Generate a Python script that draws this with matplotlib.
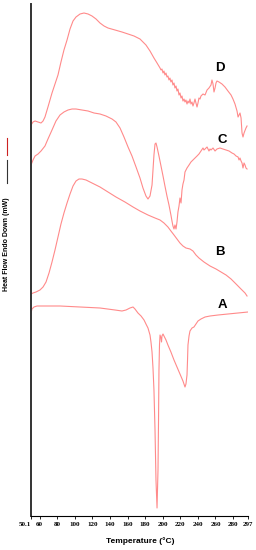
import matplotlib
matplotlib.use("Agg")
import matplotlib.pyplot as plt
from matplotlib.lines import Line2D

# DSC thermograms (heat flow, arbitrary offset mW) vs temperature (C)
temp_d = [50.1, 52.4, 54.7, 58.1, 61.5, 63.8, 66.0, 69.4, 74.0, 77.4,
          80.8, 84.2, 87.6, 91.1, 94.5, 97.9, 101.3, 105.9, 110.4, 115.0,
          119.5, 124.1, 128.6, 133.2, 137.7, 145.7, 153.6, 160.5, 167.3, 174.1,
          177.5, 180.9, 185.5, 190.0, 193.5, 196.9,
          198.0, 199.1, 200.3, 201.4, 202.5, 203.7, 204.8, 205.9, 207.1, 208.2,
          209.3, 210.5, 211.6, 212.8, 213.9, 215.1, 216.2, 217.3, 218.5, 219.6,
          220.8, 221.9, 223.0, 224.2, 225.3, 226.4, 227.6, 228.7, 229.9, 231.0,
          232.1, 233.3, 234.4, 235.5, 236.7, 237.8, 239.0, 240.1, 241.2, 242.4,
          243.5,
          245.8, 248.1, 250.4, 252.6, 254.9, 256.0, 257.2, 258.3, 259.5, 260.6,
          261.7, 264.0, 267.4, 270.8, 274.2, 277.7, 279.9, 282.2, 284.5, 285.7,
          286.8, 287.9, 289.1, 290.2, 291.3, 292.5, 294.7, 295.9]
hf_d = [39.1, 39.4, 39.5, 39.4, 39.3, 39.5, 39.9, 40.9, 42.3, 43.2,
        44.1, 45.4, 46.6, 47.6, 48.7, 49.5, 49.9, 50.2, 50.3, 50.2,
        50.0, 49.7, 49.3, 49.0, 48.8, 48.6, 48.4, 48.2, 48.0, 47.7,
        47.4, 47.1, 46.5, 45.8, 45.3, 44.8,
        44.6, 44.7, 44.3, 44.5, 44.1, 44.3, 43.9, 44.0, 43.6, 43.8,
        43.4, 43.6, 43.1, 43.3, 42.8, 43.0, 42.5, 42.7, 42.1, 42.3,
        41.8, 42.0, 41.5, 41.7, 41.4, 41.6, 41.2, 41.5, 41.3, 41.7,
        41.2, 41.4, 41.0, 41.3, 41.7, 41.3, 40.9, 41.3, 41.8, 41.7,
        42.0,
        42.2, 42.1, 42.6, 42.8, 43.1, 43.6, 43.2, 42.4, 42.8, 43.3,
        43.5, 43.4, 43.2, 42.9, 42.5, 42.1, 41.7, 41.2, 40.5, 39.9,
        40.1, 40.3, 39.8, 38.3, 37.9, 38.3, 38.8, 39.0]

temp_c = [50.1, 52.4, 54.7, 58.1, 61.5, 66.0, 69.4, 74.0, 78.5, 83.1,
          87.6, 92.2, 96.8, 101.3, 108.1, 115.0, 121.8, 128.6, 135.4, 142.3,
          146.8, 151.4, 155.9, 160.5, 165.0, 169.6, 174.1, 177.5, 180.9, 183.2,
          185.5, 187.8, 188.9, 190.0, 191.2, 192.3, 193.5, 195.7, 198.0, 200.3,
          202.5, 204.8, 207.1, 209.3, 210.5, 211.6, 212.8, 213.9, 215.1, 216.2,
          217.3, 218.5, 219.6, 220.8, 221.9, 223.0, 224.2, 225.3, 227.6, 229.9,
          232.1, 234.4, 236.7, 239.0, 241.2, 243.5, 245.8, 246.9, 248.1, 250.4,
          251.5, 252.6, 253.8, 254.9, 257.2, 259.5, 261.7, 265.1, 268.5, 272.0,
          275.4, 278.8, 281.1, 283.4, 285.7, 286.8, 287.9, 289.1, 290.2, 291.3,
          292.5, 293.6, 294.7, 295.9]
hf_c = [35.1, 35.6, 36.0, 36.2, 36.5, 37.0, 37.7, 38.6, 39.5, 40.1,
        40.4, 40.6, 40.7, 40.7, 40.6, 40.5, 40.3, 40.2, 40.0, 39.7,
        39.4, 38.8, 37.9, 36.9, 36.0, 34.9, 33.8, 32.8, 32.0, 31.7,
        32.0, 33.1, 34.6, 36.1, 37.2, 37.3, 36.9, 36.0, 35.0, 34.0,
        33.0, 32.0, 31.1, 30.1, 29.5, 29.0, 28.7, 29.1, 28.7, 29.4,
        30.4, 31.0, 31.8, 31.3, 32.6, 33.2, 33.6, 34.4, 34.8, 35.1,
        35.4, 35.6, 35.8, 36.0, 36.2, 36.5, 36.8, 36.6, 36.7, 36.9,
        36.7, 36.5, 36.7, 36.6, 36.8, 36.5, 36.7, 36.8, 36.7, 36.6,
        36.5, 36.3, 36.2, 36.0, 35.9, 35.6, 35.8, 35.5, 35.3, 34.8,
        35.3, 35.1, 34.8, 34.7]

temp_b = [50.1, 52.4, 55.8, 60.3, 63.8, 67.2, 70.6, 74.0, 77.4, 80.8,
          84.2, 87.6, 91.1, 94.5, 97.9, 101.3, 104.7, 108.1, 112.7, 119.5,
          128.6, 137.7, 146.8, 157.0, 166.2, 174.1, 183.2, 191.2, 196.9, 201.4,
          205.9, 209.3, 212.8, 216.2, 219.6, 223.0, 226.4, 231.0, 234.4, 237.8,
          241.2, 246.9, 253.8, 260.6, 266.3, 272.0, 277.7, 283.4, 289.0, 293.6,
          295.9]
hf_b = [22.2, 22.3, 22.4, 22.6, 22.9, 23.4, 24.3, 25.4, 26.6, 27.9,
        29.2, 30.3, 31.3, 32.2, 33.0, 33.5, 33.7, 33.7, 33.6, 33.3,
        32.9, 32.4, 31.9, 31.4, 30.9, 30.5, 30.1, 29.8, 29.6, 29.3,
        28.9, 28.5, 28.1, 27.7, 27.3, 27.0, 26.8, 26.7, 26.5, 26.1,
        25.8, 25.4, 25.0, 24.7, 24.4, 24.1, 23.7, 23.2, 22.7, 22.3,
        22.0]

temp_a = [50.1, 51.2, 53.5, 56.9, 66.0, 83.1, 105.9, 128.6, 145.7, 153.6,
          158.2, 162.7, 166.2, 168.4, 171.8, 175.3, 178.7, 180.9, 183.2, 185.5,
          186.6, 187.8, 188.9, 190.0, 191.2, 192.3, 193.5, 194.6, 195.2, 195.7,
          196.3, 196.9, 198.0, 198.6, 199.1, 200.3, 201.4, 203.7, 205.9, 209.3,
          212.8, 216.2, 219.6, 223.0, 225.3, 226.4, 227.6, 228.2, 228.7, 229.9,
          231.0, 233.3, 235.5, 237.8, 240.1, 243.5, 248.1, 253.8, 262.9, 274.2,
          285.6, 297.0]
hf_a = [20.3, 20.7, 20.9, 21.0, 21.0, 21.0, 20.9, 20.8, 20.6, 20.5,
        20.6, 20.8, 20.9, 20.7, 20.3, 20.0, 19.6, 19.2, 18.8, 18.1,
        17.4, 16.4, 14.8, 12.6, 8.6, 3.6, 0.8, 4.6, 9.6, 14.6,
        17.1, 18.1, 17.8, 17.4, 18.0, 18.2, 18.0, 17.6, 17.1, 16.4,
        15.6, 14.9, 14.2, 13.5, 12.9, 13.2, 14.1, 15.6, 17.1, 18.0,
        18.5, 18.8, 18.9, 19.2, 19.5, 19.7, 19.9, 20.0, 20.1, 20.2,
        20.3, 20.4]

curve_names = ["D", "C", "B", "A"]
# label positions (temperature, heat flow)
label_temp = [265.5, 267.4, 265.1, 267.4]
label_hf = [44.8, 37.6, 26.4, 21.1]

x_ticks = [50.1, 60, 80, 100, 120, 140, 160, 180, 200, 220, 240, 260, 280, 297]

line_col = "#ff8a8a"

fig = plt.figure(figsize=(2.56, 5.5), dpi=100)
ax = fig.add_axes([31 / 256, 34 / 550, 217 / 256, 512 / 550])

for t, h in [(temp_d, hf_d), (temp_c, hf_c), (temp_b, hf_b), (temp_a, hf_a)]:
    ax.plot(t, h, color=line_col, lw=0.8)

for name, tx, ty in zip(curve_names, label_temp, label_hf):
    ax.text(tx, ty, name, fontsize=9.5, fontweight="bold",
            family="Liberation Sans", ha="center", va="center")

ax.set_xlim(50.1, 297)
ax.set_ylim(0, 51.2)
ax.set_xticks(x_ticks)
ax.set_xticklabels([str(v) for v in x_ticks], family="Liberation Serif",
                   fontsize=5, fontweight="bold")
ax.get_xticklabels()[0].set_horizontalalignment("right")
ax.tick_params(axis="x", length=2, width=0.6, pad=2)
ax.set_yticks([])
ax.spines["top"].set_visible(False)
ax.spines["right"].set_visible(False)
ax.spines["left"].set_linewidth(1.4)
ax.spines["left"].set_color("#333333")
ax.spines["bottom"].set_linewidth(0.8)

fig.text(140 / 256, 1 - 541 / 550, "Temperature (\u00b0C)", ha="center", va="center",
         fontsize=6, fontweight="bold", family="Liberation Sans")
fig.text(7 / 256, 1 - 244 / 550, "Heat Flow Endo Down (mW)", rotation=90,
         ha="center", va="center", fontsize=5, fontweight="bold",
         family="Liberation Sans")
# little red / black marks next to the y label
fig.add_artist(Line2D([7 / 256, 7 / 256], [1 - 138 / 550, 1 - 155 / 550],
                      color="#cc2222", lw=0.8))
fig.add_artist(Line2D([7 / 256, 7 / 256], [1 - 160 / 550, 1 - 183 / 550],
                      color="#333333", lw=0.8))

fig.savefig("out.png", dpi=100)
